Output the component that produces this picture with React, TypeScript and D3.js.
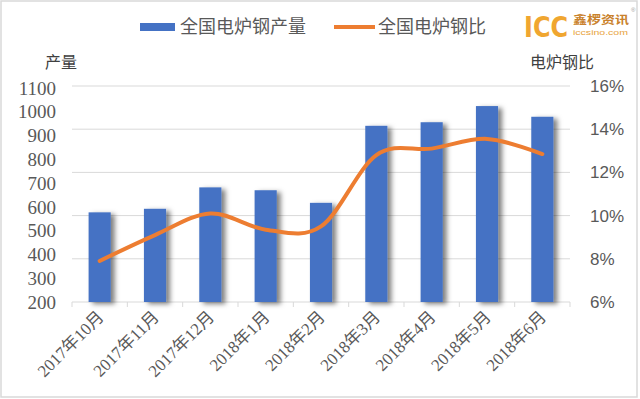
import * as d3 from "d3";
import React from "react";

const months = [
  "2017年10月", "2017年11月", "2017年12月", "2018年1月", "2018年2月",
  "2018年3月", "2018年4月", "2018年5月", "2018年6月",
];
const output = [577, 592, 682, 670, 617, 941, 956, 1024, 979];
const eafShare = [7.9, 9.1, 10.1, 9.35, 9.5, 12.8, 13.1, 13.55, 12.85];
const leftTicks = [200, 300, 400, 500, 600, 700, 800, 900, 1000, 1100];
const rightTicks = [6, 8, 10, 12, 14, 16];

const W = 640;
const H = 399;
const left = 72;
const right = 570;
const top = 86;
const bottom = 302;

const serif = "'Liberation Serif', 'Noto Sans CJK SC', serif";
const cjk = "'Noto Sans CJK SC', sans-serif";
const grey = "#595959";

export default function App() {
  const x = d3.scaleBand().domain(months).range([left, right]).paddingInner(0.6).paddingOuter(0.3);
  const band = d3.scaleBand().domain(months).range([left, right]);
  const yL = d3.scaleLinear().domain([200, 1100]).range([bottom, 88]);
  const yR = d3.scaleLinear().domain([6, 16]).range([bottom, top]);

  const line = d3.line<number>()
    .x((d, i) => band(months[i])! + band.bandwidth() / 2)
    .y(d => yR(d))
    .curve(d3.curveCardinal);

  return (
    <svg width={W} height={H} style={{position: "absolute", left: 0, top: 0, background: "#fff"}}>
      <defs>
        <filter id="shadow" x="-30%" y="-10%" width="180%" height="130%">
          <feDropShadow dx="4" dy="2" stdDeviation="2.5" floodColor="#000" floodOpacity="0.5" />
        </filter>
      </defs>
      <rect x={1} y={1} width={636} height={396} fill="#fff" stroke="#d9d9d9" strokeWidth={1.5} />

      {/* gridlines */}
      {rightTicks.map(t => (
        <line key={t} x1={left} x2={right} y1={yR(t)} y2={yR(t)} stroke="#d9d9d9" strokeWidth={1} />
      ))}
      {/* x axis ticks */}
      {months.map(m => (
        <line key={m} x1={band(m)!} x2={band(m)!} y1={bottom} y2={bottom + 5} stroke="#d9d9d9" />
      ))}
      <line x1={right} x2={right} y1={bottom} y2={bottom + 5} stroke="#d9d9d9" />

      {/* bars */}
      {months.map((m, i) => (
        <rect key={m} x={x(m)} y={yL(output[i])} width={x.bandwidth()} height={bottom - yL(output[i])}
          fill="#4472C4" filter="url(#shadow)" />
      ))}

      {/* line */}
      <path d={line(eafShare)!} fill="none" stroke="#ED7D31" strokeWidth={4} strokeLinecap="round" />

      {/* left axis */}
      {leftTicks.map(t => (
        <text key={t} x={56} y={yL(t)} dy="0.35em" textAnchor="end" fontFamily={serif} fontSize={19} fill={grey}>{t}</text>
      ))}
      {/* right axis */}
      {rightTicks.map(t => (
        <text key={t} x={590} y={yR(t)} dy="0.35em" fontFamily="'Liberation Sans', sans-serif" fontSize={17} fill={grey}>{t}%</text>
      ))}

      {/* x labels */}
      {months.map(m => (
        <text key={m} transform={`translate(${band(m)! + band.bandwidth() / 2 + 5},${bottom + 16}) rotate(-45)`}
          textAnchor="end" fontFamily={serif} fontSize={17} fill={grey}>{m}</text>
      ))}

      {/* axis titles */}
      <text x={61} y={62} dy="0.35em" textAnchor="middle" fontFamily={cjk} fontSize={16} fill="#404040">产量</text>
      <text x={562} y={62} dy="0.35em" textAnchor="middle" fontFamily={cjk} fontSize={16} fill="#404040">电炉钢比</text>

      {/* legend */}
      <rect x={140} y={23} width={35} height={8} fill="#4472C4" />
      <text x={180} y={27} dy="0.35em" fontFamily={cjk} fontSize={18} fill={grey}>全国电炉钢产量</text>
      <line x1={334} x2={375} y1={27} y2={27} stroke="#ED7D31" strokeWidth={4} />
      <text x={378} y={27} dy="0.35em" fontFamily={cjk} fontSize={18} fill={grey}>全国电炉钢比</text>

      {/* logo */}
      <text x={524} y={37} fontFamily="'DejaVu Sans', sans-serif" fontWeight="bold" fontSize={28}
        textLength={44} lengthAdjust="spacingAndGlyphs" fill="#F0A630">ICC</text>
      <text x={573} y={24} fontFamily={cjk} fontWeight="bold" fontSize={11} textLength={56}
        lengthAdjust="spacingAndGlyphs" fill="#C9812B">鑫椤资讯</text>
      <text x={573} y={35} fontFamily="'Liberation Sans', sans-serif" fontSize={8} textLength={55}
        lengthAdjust="spacingAndGlyphs" fill="#E8A33D">iccsino.com</text>
      <text x={631} y={12} fontFamily="'Liberation Sans', sans-serif" fontSize={6} fill="#999">®</text>
    </svg>
  );
}
